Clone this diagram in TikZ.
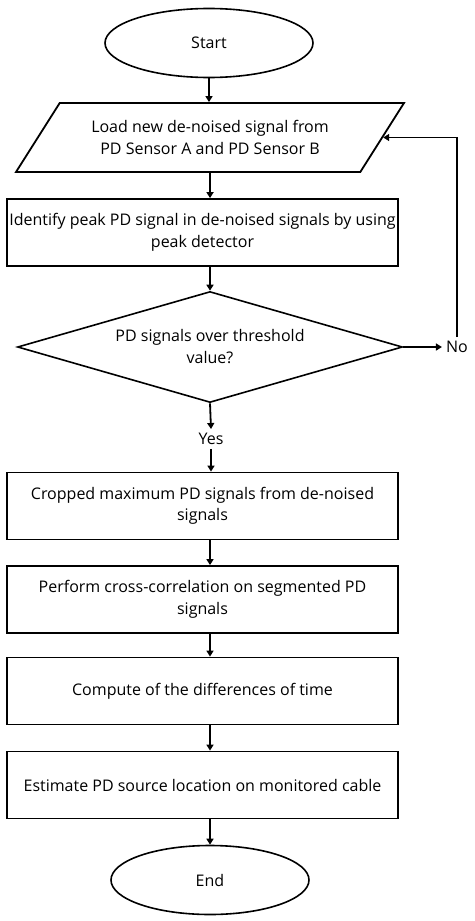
\documentclass[tikz,border=0pt]{standalone}
\usepackage{fontspec}
\setmainfont{Open Sans}
\usetikzlibrary{shapes.geometric, arrows.meta, positioning}
\tikzset{
    terminal/.style={ellipse, draw=black, line width=1.6pt, minimum width=208pt, minimum height=69pt, inner sep=0pt, text centered, font=\fontsize{16}{21.5}\selectfont},
    io/.style={trapezium, trapezium left angle=37.8, trapezium right angle=142.2, trapezium stretches body, draw=black, line width=1.8pt, minimum width=388pt, minimum height=69pt, inner sep=0pt, align=center, font=\fontsize{16}{21.5}\selectfont},
    process/.style={rectangle, draw=black, line width=1.8pt, minimum width=391pt, minimum height=67pt, inner sep=0pt, align=center, font=\fontsize{16}{21.5}\selectfont},
    decision/.style={diamond, draw=black, line width=1.6pt, aspect=3.47, minimum width=385pt, minimum height=111pt, inner sep=0pt, align=center, font=\fontsize{16}{21.5}\selectfont},
    tag/.style={inner sep=4pt, font=\fontsize{16}{21.5}\selectfont},
    arrow/.style={line width=1.8pt, -{Triangle[width=7pt, length=6pt]}}
}

\begin{document}
\begin{tikzpicture}[x=1pt, y=-1pt]
        \useasboundingbox (0,0) rectangle (474,921);

        % Steps
        \node (start) at (209,43) [terminal] {Start};
        \node (load) at (210,137.5) [io] {Load new de-noised signal from\\PD Sensor A and PD Sensor B};
        \node (peak) at (202.5,232.5) [process] {Identify peak PD signal in de-noised signals by using\\peak detector};
        \node (check) at (210,347) [decision] {\\[-10pt]PD signals over threshold\\value?};
        \node (yes) at (211,439) [tag] {Yes};
        \node (no) at (457,347) [tag] {No};
        \node (crop) at (202.5,506) [process] {Cropped maximum PD signals from de-noised\\signals};
        \node (xcorr) at (202.5,599.5) [process] {Perform cross-correlation on segmented PD\\signals};
        \node (delta) at (202.5,691) [process] {Compute of the differences of time};
        \node (locate) at (202.5,785) [process] {Estimate PD source location on monitored cable};
        \node (stop) at (210,880) [terminal, minimum width=198pt] {End};

        % Flow
        \draw[arrow] (start.south) -- (start.south |- load.north);
        \draw[arrow] (load.south) -- (load.south |- peak.north);
        \draw[arrow] (check.north |- peak.south) -- (check.north);
        \draw[arrow] (check.south) -- (yes.north);
        \draw[arrow] (yes.south) -- (yes.south |- crop.north);
        \draw[arrow] (check.south |- crop.south) -- (check.south |- xcorr.north);
        \draw[arrow] (check.south |- xcorr.south) -- (check.south |- delta.north);
        \draw[arrow] (check.south |- delta.south) -- (check.south |- locate.north);
        \draw[arrow] (check.south |- locate.south) -- (stop.north);

        % Loop back
        \draw[arrow] (check.east) -- (no.west);
        \draw[arrow] (no.north) |- (load.right side);
    \end{tikzpicture}
\end{document}
